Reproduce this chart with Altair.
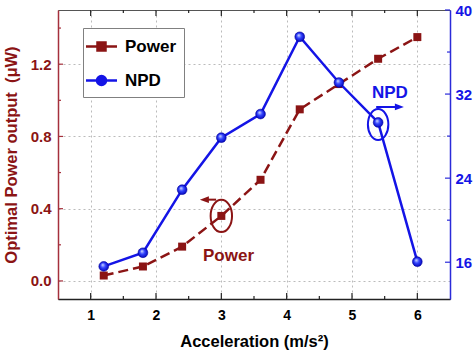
import altair as alt
import pandas as pd

# ---------------- data ----------------
accel = [1.2, 1.8, 2.4, 3.0, 3.6, 4.2, 4.8, 5.4, 6.0]
power = [0.03, 0.08, 0.19, 0.36, 0.56, 0.95, 1.09, 1.23, 1.35]
npd = [15.6, 16.9, 22.9, 27.85, 30.1, 37.45, 33.1, 29.3, 16.05]
series_names = ["Power", "NPD"]

x_ticks = [1, 2, 3, 4, 5, 6]
x_minor = [1.5, 2.5, 3.5, 4.5, 5.5]
power_ticks = [0.0, 0.4, 0.8, 1.2]
power_minor = [0.2, 0.6, 1.0, 1.4]
npd_ticks = [16, 24, 32, 40]
npd_minor = [20, 28, 36]

# annotations (data coordinates)
power_circle = [3.0, 0.36]
power_arrow = [2.92, 2.74, 0.45]      # x start, head centre, y
power_label = [3.11, 0.14]
npd_circle = [5.4, 29.1]
npd_arrow = [5.37, 5.725, 30.77]
npd_label = [5.58, 32.1]

# ---------------- style ----------------
FONT = "Liberation Sans"
W, H = 392, 289
RED = "#8B1414"
RED_AXIS = "#A5303C"
BLUE = "#1414E6"
BLUE_AXIS = "#2B2BD9"

xs = alt.Scale(domain=[0.5, 6.5], nice=False, zero=False)
ysl = alt.Scale(domain=[-0.1, 1.5], nice=False, zero=False)
ysr = alt.Scale(domain=[12.5, 40], nice=False, zero=False)

xaxis = alt.Axis(values=x_ticks, format="d", grid=True, ticks=False,
                 domainColor="#222222", domainWidth=1.5,
                 labelFontSize=14, labelPadding=9, labelColor="black",
                 titleFontSize=16.5, titlePadding=11, titleColor="black",
                 gridDash=[2, 3], gridColor="#bbbbbb")
yaxis_l = alt.Axis(values=power_ticks, format=".1f", grid=True, ticks=False,
                   domainColor=RED_AXIS, domainWidth=1.5,
                   labelFontSize=15, labelPadding=7, labelColor=RED,
                   titleFontSize=16.5, titlePadding=11, titleColor=RED,
                   gridDash=[2, 3], gridColor="#bbbbbb")
yaxis_r = alt.Axis(orient="right", values=npd_ticks, format="d", grid=False, ticks=False,
                   domainColor=BLUE_AXIS, domainWidth=1.5,
                   labelFontSize=15, labelPadding=5, labelColor=BLUE)

X_TITLE = "Acceleration (m/s²)"
YL_TITLE = "Optimal Power output \u00a0(μW)"


def X(f):
    return alt.X(f"{f}:Q", scale=xs, axis=xaxis, title=X_TITLE)


def YL(f):
    return alt.Y(f"{f}:Q", scale=ysl, axis=yaxis_l, title=YL_TITLE)


def YR(f):
    return alt.Y(f"{f}:Q", scale=ysr, axis=yaxis_r, title=None)


df = pd.DataFrame({"accel": accel, "power": power, "npd": npd})

# ---------------- left (Power) group ----------------
power_line = alt.Chart(df).mark_line(color=RED, strokeWidth=2.5, strokeDash=[10, 5]).encode(
    x=X("accel"), y=YL("power"))
power_pts = alt.Chart(df).mark_point(shape="square", filled=True, size=64, color=RED, opacity=1).encode(
    x=X("accel"), y=YL("power"))


def xtick_layer(vals, y0, y1):
    return alt.Chart(pd.DataFrame({"t": vals})).mark_rule(color="#222222", strokeWidth=1.2).encode(
        x=X("t"), y=alt.value(y0), y2=alt.value(y1))


left_ticks = [
    xtick_layer(x_ticks, H, H - 6), xtick_layer(x_minor, H, H - 3),
    xtick_layer(x_ticks, 0, 6), xtick_layer(x_minor, 0, 3),
    alt.Chart(pd.DataFrame({"t": power_ticks})).mark_rule(color=RED_AXIS, strokeWidth=1.2).encode(
        y=YL("t"), x=alt.value(0), x2=alt.value(5)),
    alt.Chart(pd.DataFrame({"t": power_minor})).mark_rule(color=RED_AXIS, strokeWidth=1.2).encode(
        y=YL("t"), x=alt.value(0), x2=alt.value(3)),
]

ELLIPSE = "M0,-1A0.66,1 0 1,1 0,1A0.66,1 0 1,1 0,-1Z"
HEAD_L = "M-1,0L1,-0.75L1,0.75Z"
HEAD_R = "M1,0L-1,-0.75L-1,0.75Z"

p_ann = pd.DataFrame({"x": [power_circle[0]], "y": [power_circle[1]]})
p_arr = pd.DataFrame({"x": [power_arrow[0]], "x2": [power_arrow[1]], "y": [power_arrow[2]]})
p_txt = pd.DataFrame({"x": [power_label[0]], "y": [power_label[1]]})

power_ann = [
    alt.Chart(p_ann).mark_point(shape=ELLIPSE, size=1050, filled=False, color=RED, strokeWidth=2, opacity=1).encode(
        x=X("x"), y=YL("y")),
    alt.Chart(p_arr).mark_rule(color=RED, strokeWidth=2).encode(x=X("x"), x2="x2:Q", y=YL("y")),
    alt.Chart(p_arr).mark_point(shape=HEAD_L, size=81, filled=True, color=RED, opacity=1).encode(
        x=X("x2"), y=YL("y")),
    alt.Chart(p_txt).mark_text(text="Power", font=FONT, fontSize=17, fontWeight="bold", color=RED).encode(
        x=X("x"), y=YL("y")),
]

P_PATH = "M-1.55,0H-0.4M0.4,0H1.55M-0.4,-0.4H0.4V0.4H-0.4Z"
N_PATH = "M-1.55,0H1.55M-0.45,0A0.45,0.45 0 1,0 0.45,0A0.45,0.45 0 1,0 -0.45,0Z"
leg = alt.Legend(title=None, orient="none", legendX=25, legendY=18, symbolSize=400,
                 symbolStrokeWidth=2.5, symbolOpacity=1, labelFont=FONT, labelFontSize=17,
                 labelFontWeight="bold", labelColor="black", labelOffset=12, padding=7,
                 rowPadding=13, strokeColor="#808080", fillColor="white")
legend_layer = alt.Chart(pd.DataFrame({"series": series_names})).mark_point(
    filled=True, opacity=0, size=400).encode(
    fill=alt.Fill("series:N", scale=alt.Scale(domain=series_names, range=[RED, BLUE]), legend=leg),
    stroke=alt.Stroke("series:N", scale=alt.Scale(domain=series_names, range=[RED, BLUE]), legend=leg),
    shape=alt.Shape("series:N", scale=alt.Scale(domain=series_names, range=[P_PATH, N_PATH]), legend=leg),
)

left = alt.layer(*left_ticks, power_line, power_pts, *power_ann, legend_layer)

# ---------------- right (NPD) group ----------------
sphere = alt.RadialGradient(
    gradient="radial",
    stops=[alt.GradientStop(color="#dde6ff", offset=0),
           alt.GradientStop(color="#3345ff", offset=0.45),
           alt.GradientStop(color="#0000b4", offset=1)],
    x1=0.38, y1=0.32, r1=0, x2=0.5, y2=0.5, r2=0.55)

npd_line = alt.Chart(df).mark_line(color=BLUE, strokeWidth=2.5).encode(x=X("accel"), y=YR("npd"))
npd_pts = alt.Chart(df).mark_point(shape="circle", filled=True, size=95, fill=sphere, opacity=1,
                                   stroke="#0000a0", strokeWidth=0.6).encode(
    x=X("accel"), y=YR("npd"))

right_ticks = [
    alt.Chart(pd.DataFrame({"t": npd_ticks})).mark_rule(color=BLUE_AXIS, strokeWidth=1.2).encode(
        y=YR("t"), x=alt.value(W), x2=alt.value(W - 5)),
    alt.Chart(pd.DataFrame({"t": npd_minor})).mark_rule(color=BLUE_AXIS, strokeWidth=1.2).encode(
        y=YR("t"), x=alt.value(W), x2=alt.value(W - 3)),
]

n_ann = pd.DataFrame({"x": [npd_circle[0]], "y": [npd_circle[1]]})
n_arr = pd.DataFrame({"x": [npd_arrow[0]], "x2": [npd_arrow[1]], "y": [npd_arrow[2]]})
n_txt = pd.DataFrame({"x": [npd_label[0]], "y": [npd_label[1]]})

npd_ann = [
    alt.Chart(n_ann).mark_point(shape=ELLIPSE, size=961, filled=False, color=BLUE, strokeWidth=2, opacity=1).encode(
        x=X("x"), y=YR("y")),
    alt.Chart(n_arr).mark_rule(color=BLUE, strokeWidth=2).encode(x=X("x"), x2="x2:Q", y=YR("y")),
    alt.Chart(n_arr).mark_point(shape=HEAD_R, size=81, filled=True, color=BLUE, opacity=1).encode(
        x=X("x2"), y=YR("y")),
    alt.Chart(n_txt).mark_text(text="NPD", font=FONT, fontSize=17, fontWeight="bold", color=BLUE).encode(
        x=X("x"), y=YR("y")),
]

right = alt.layer(*right_ticks, npd_line, *npd_ann, npd_pts)

chart = alt.layer(left, right).resolve_scale(y="independent").properties(
    width=W, height=H,
    padding={"left": 58, "top": 10, "right": 24, "bottom": 53},
    autosize=alt.AutoSizeParams(type="none"),
).configure_view(stroke="#555555", strokeWidth=1).configure_axis(
    labelFont=FONT, titleFont=FONT, labelFontWeight="bold", titleFontWeight="bold"
)

chart.save("out.html", embed_options={"renderer": "svg", "actions": False})
